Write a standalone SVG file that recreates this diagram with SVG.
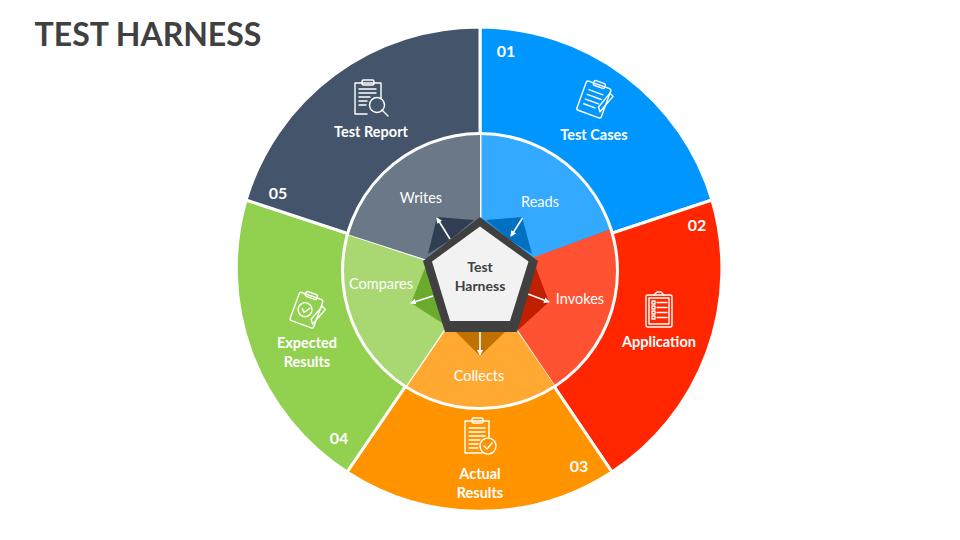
<svg xmlns="http://www.w3.org/2000/svg" width="960" height="540" viewBox="0 0 960 540">
<style>
text{font-family:Lato,"Liberation Sans",sans-serif;text-anchor:middle;fill:#fff}
.b{font-weight:700;font-size:14.5px}
.n{font-size:14.5px}
.num{font-weight:700;font-size:16px}
.sec{stroke:#fff;stroke-width:3}
.ic{fill:none;stroke:#fff;stroke-width:1.4;stroke-linejoin:round;stroke-linecap:round}
.arrow{stroke:#fff;stroke-width:1.6;marker-end:url(#ah);fill:none}
</style>
<defs><marker id="ah" markerWidth="7" markerHeight="7" refX="5" refY="3" orient="auto" markerUnits="userSpaceOnUse"><path d="M0 0L6 3L0 6Z" fill="#fff"/></marker></defs>
<rect width="960" height="540" fill="#fff"/>
<text x="148" y="46" style="font-size:32px;font-weight:700;fill:#404040">TEST HARNESS</text>
<g id="node-01">
<path class="sec" d="M480 277L480 27A243 243 0 0 1 712 200Z" fill="#0096ff"/>
<path d="M480 277L480 134A137 137 0 0 1 611 229Z" fill="#33a9ff"/>
<text class="num" x="506" y="57">01</text>
<text class="b" x="594" y="140">Test Cases</text>
<text class="n" x="540" y="207">Reads</text>
<g class="ic" transform="translate(594 99) rotate(20)"><rect x="-13" y="-15" width="26" height="31" rx="2"/><rect x="-6" y="-18" width="12" height="5" rx="1.5"/><path d="M-8 -7H7M-8 -2H7M-8 3H6M-8 8H4M10 10L17 -9L13 -11L7 6Z"/></g>
</g>
<g id="node-02">
<path class="sec" d="M480 277L712 200A243 243 0 0 1 612 472Z" fill="#ff2600"/>
<path d="M480 277L611 229A137 137 0 0 1 555 386Z" fill="#ff5233"/>
<text class="num" x="697" y="231">02</text>
<text class="b" x="659" y="347">Application</text>
<text class="n" x="580" y="304">Invokes</text>
<g class="ic" transform="translate(659 309)"><rect x="-13" y="-14" width="26" height="32" rx="2"/><rect x="-10" y="-11" width="20" height="26"/><path d="M-5 -14L-2 -17H2L5 -14M-7 -8H-4V-5H-7ZM-7 -3H-4V0H-7ZM-7 2H-4V5H-7ZM-7 7H-4V10H-7ZM-2 -6.500H8M-2 -1.500H8M-2 3.500H8M-2 8.500H8"/></g>
</g>
<g id="node-03">
<path class="sec" d="M480 277L612 472A243 243 0 0 1 347 472Z" fill="#ff9300"/>
<path d="M480 277L555 386A137 137 0 0 1 406 386Z" fill="#ffa933"/>
<text class="num" x="579" y="472">03</text>
<text class="b" x="480" y="479">Actual</text>
<text class="b" x="480" y="498">Results</text>
<text class="n" x="479" y="381">Collects</text>
<g class="ic" transform="translate(478 436)"><path d="M4 17H-13V-15H11V1"/><rect x="-6" y="-18" width="11" height="5" rx="1.500"/><path d="M-9 -8H7M-9 -4H7M-9 0H7M-9 4H2M-9 8H0M-9 12H0"/><circle cx="10" cy="10" r="8"/><path d="M6 10L9 13L14 7"/></g>
</g>
<g id="node-04">
<path class="sec" d="M480 277L347 472A243 243 0 0 1 246 200Z" fill="#92d050"/>
<path d="M480 277L406 386A137 137 0 0 1 347 234Z" fill="#a9d872"/>
<text class="num" x="339" y="444">04</text>
<text class="b" x="307" y="348">Expected</text>
<text class="b" x="307" y="367">Results</text>
<text class="n" x="381" y="289">Compares</text>
<g class="ic" transform="translate(306 310) rotate(20)"><rect x="-12" y="-15" width="25" height="30" rx="2"/><rect x="-6" y="-18" width="12" height="5" rx="1.500"/><circle cx="-1" cy="0" r="7"/><path d="M-4 0L-1 3L3 -3M11 11L18 -7L14 -9L8 7Z"/></g>
</g>
<g id="node-05">
<path class="sec" d="M480 277L246 200A243 243 0 0 1 480 27Z" fill="#44546a"/>
<path d="M480 277L347 234A137 137 0 0 1 480 134Z" fill="#6a7888"/>
<text class="num" x="278" y="199">05</text>
<text class="b" x="371" y="137">Test Report</text>
<text class="n" x="421" y="203">Writes</text>
<g class="ic" transform="translate(370 98)"><path d="M-3 16H-15V-15H11V0"/><rect x="-8" y="-18" width="12" height="5" rx="1.500"/><path d="M-11 -9H6M-11 -5H6M-11 -1H0M-11 3H-3M-11 7H-4"/><circle cx="7" cy="7" r="7.500"/><path d="M12 12L18 18"/></g>
</g>
<g id="connectors">
<circle cx="480" cy="271" r="137.500" fill="none" stroke="#fff" stroke-width="3"/>
<path d="M486 220L522 217L532 254L510 240Z" fill="#0070c0"/>
<path d="M474 220L437 217L428 254L450 240Z" fill="#2f3e52"/>
<path d="M536 268L549 302L518 330L520 290Z" fill="#c01f00"/>
<path d="M455 331L480 356L506 331Z" fill="#bf7200"/>
<path d="M425 268L411 303L442 323L440 290Z" fill="#6aaa2e"/>
<path class="arrow" d="M522.500 218L511 236"/>
<path class="arrow" d="M450 239L437 218"/>
<path class="arrow" d="M528 294L549 302"/>
<path class="arrow" d="M480 332V355"/>
<path class="arrow" d="M433 296L411 303"/>
</g>
<g id="center">
<polygon points="480,217 538,261 517,332 445,332 423,261" fill="#404040"/>
<polygon points="480,226.500 528.500,261.500 510,321 450,321 432,261.500" fill="#f2f2f2"/>
<text x="480" y="272" style="font-weight:700;font-size:14px;fill:#404040">Test</text>
<text x="480" y="291" style="font-weight:700;font-size:14px;fill:#404040">Harness</text>
</g>
</svg>
